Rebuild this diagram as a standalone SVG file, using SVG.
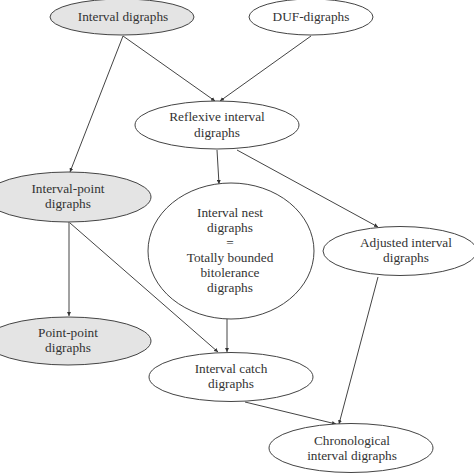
<svg xmlns="http://www.w3.org/2000/svg" width="474" height="474" viewBox="0 0 474 474">
<style>
.n{fill:#fff;stroke:#444;stroke-width:1}
.g{fill:#e4e4e4}
text{font-family:'Liberation Serif','Times New Roman',serif;font-size:13.3px;fill:#333;text-anchor:middle}
.e{fill:none;stroke:#444;stroke-width:1;marker-end:url(#a)}
</style>
<defs>
<marker id="a" viewBox="0 0 6 6" refX="6" refY="3" markerWidth="4" markerHeight="4" orient="auto" markerUnits="userSpaceOnUse">
<path d="M0,0 L6,3 L0,6 Z" fill="#333"/>
</marker>
</defs>
<rect width="474" height="474" fill="#fff"/>
<g id="edges">
<line class="e" x1="123" y1="36" x2="215" y2="101"/>
<line class="e" x1="311" y1="36" x2="220" y2="101"/>
<line class="e" x1="123" y1="36" x2="70" y2="172"/>
<line class="e" x1="217" y1="150" x2="219" y2="184"/>
<line class="e" x1="237" y1="150" x2="378" y2="227"/>
<line class="e" x1="69" y1="222" x2="69" y2="316"/>
<line class="e" x1="70" y1="223" x2="218" y2="352"/>
<line class="e" x1="227" y1="319" x2="227" y2="352"/>
<line class="e" x1="245" y1="402" x2="336" y2="424"/>
<line class="e" x1="378" y1="277" x2="339" y2="424"/>
</g>
<g id="interval-digraphs">
<ellipse class="n g" cx="122" cy="17" rx="72" ry="18"/>
<text x="123" y="21">Interval digraphs</text>
</g>
<g id="duf-digraphs">
<ellipse class="n" cx="311" cy="17" rx="62" ry="18"/>
<text x="311" y="21">DUF-digraphs</text>
</g>
<g id="reflexive">
<ellipse class="n" cx="217" cy="125" rx="82" ry="24"/>
<text x="217" y="121">Reflexive interval</text>
<text x="217" y="137">digraphs</text>
</g>
<g id="interval-point">
<ellipse class="n g" cx="68" cy="197" rx="83" ry="25"/>
<text x="68" y="193">Interval-point</text>
<text x="68" y="208">digraphs</text>
</g>
<g id="interval-nest">
<ellipse class="n" cx="231" cy="251" rx="83" ry="68"/>
<text x="230" y="217">Interval nest</text>
<text x="230" y="232">digraphs</text>
<text x="230" y="247">=</text>
<text x="230" y="262">Totally bounded</text>
<text x="230" y="277">bitolerance</text>
<text x="230" y="292">digraphs</text>
</g>
<g id="adjusted">
<ellipse class="n" cx="400" cy="251" rx="77" ry="24.5"/>
<text x="406" y="247">Adjusted interval</text>
<text x="406" y="262">digraphs</text>
</g>
<g id="point-point">
<ellipse class="n g" cx="68" cy="341" rx="83" ry="24"/>
<text x="68" y="337">Point-point</text>
<text x="68" y="352">digraphs</text>
</g>
<g id="interval-catch">
<ellipse class="n" cx="231" cy="377" rx="82" ry="24.5"/>
<text x="231" y="373">Interval catch</text>
<text x="231" y="388">digraphs</text>
</g>
<g id="chronological">
<ellipse class="n" cx="351" cy="448" rx="82" ry="24.5"/>
<text x="352" y="445">Chronological</text>
<text x="352" y="460">interval digraphs</text>
</g>
</svg>
